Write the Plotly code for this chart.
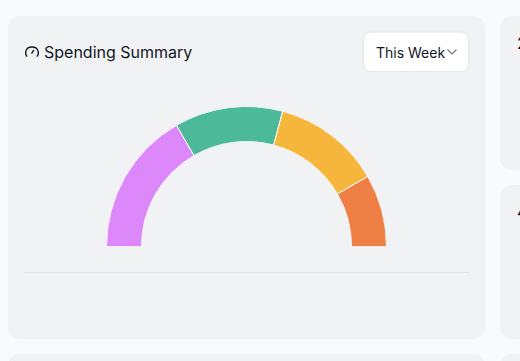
import plotly.graph_objects as go

W, H = 520, 361
categories = ["A", "B", "C", "D"]
values = [40, 30, 30, 20]
colors = ["#dd88fa", "#4cb998", "#f5b63b", "#ef8045"]

PAGE = "#f9fafb"
CARD = "#f1f2f4"


def X(p):
    return p / W


def Y(p):
    return 1 - p / H


def rrect(x0, y0, x1, y1, r):
    k = r * 0.45
    pts = [
        f"M{X(x0 + r)},{Y(y0)}", f"L{X(x1 - r)},{Y(y0)}",
        f"C{X(x1 - k)},{Y(y0)} {X(x1)},{Y(y0 + k)} {X(x1)},{Y(y0 + r)}",
        f"L{X(x1)},{Y(y1 - r)}",
        f"C{X(x1)},{Y(y1 - k)} {X(x1 - k)},{Y(y1)} {X(x1 - r)},{Y(y1)}",
        f"L{X(x0 + r)},{Y(y1)}",
        f"C{X(x0 + k)},{Y(y1)} {X(x0)},{Y(y1 - k)} {X(x0)},{Y(y1 - r)}",
        f"L{X(x0)},{Y(y0 + r)}",
        f"C{X(x0)},{Y(y0 + k)} {X(x0 + k)},{Y(y0)} {X(x0 + r)},{Y(y0)}", "Z",
    ]
    return " ".join(pts)


def card(x0, y0, x1, y1, r=12, fill=CARD, line=None):
    return dict(type="path", xref="paper", yref="paper", path=rrect(x0, y0, x1, y1, r),
                fillcolor=fill, line=dict(color=line or fill, width=1 if line else 0), layer="below")


def stroke(path_pts, color, width):
    path = "M" + " L".join(f"{X(a)},{Y(b)}" for a, b in path_pts)
    return dict(type="path", xref="paper", yref="paper", path=path,
                line=dict(color=color, width=width), layer="above")


total = sum(values)
span = [v / total * 180 for v in values]
starts = [sum(span[:i]) for i in range(len(span))]
thetas = [s + w / 2 for s, w in zip(starts, span)]

fig = go.Figure(go.Barpolar(
    r=[1] * len(values), theta=thetas, width=span, base=0,
    customdata=categories, hoverinfo="skip",
    marker=dict(color=colors, line=dict(color="#ffffff", width=1)),
))

shapes = [
    card(8, 16, 485.5, 339),
    card(500, 16, 560, 170),
    card(500, 185, 560, 339),
    card(8, 354, 485.5, 420),
    card(500, 354, 560, 420),
    card(363.5, 32, 468.5, 71.5, r=8, fill="#ffffff", line="#e3e6ee"),
    dict(type="line", xref="paper", yref="paper", x0=X(24), x1=X(469), y0=Y(272.5), y1=Y(272.5),
         line=dict(color="#dfe1ea", width=1), layer="below"),
    stroke([(447.5, 49.5), (452, 54), (456.5, 49.5)], "#6b7280", 1.2),
    # gauge icon
    dict(type="path", xref="paper", yref="paper",
         path=f"M{X(27.2)},{Y(56.6)} C{X(24.5)},{Y(54)} {X(25)},{Y(47)} {X(32)},{Y(47)} "
              f"C{X(39)},{Y(47)} {X(39.5)},{Y(54)} {X(36.8)},{Y(56.6)}",
         line=dict(color="#111827", width=1.3), layer="above"),
    stroke([(31.5, 53.5), (34, 50)], "#111827", 1.3),
]

annotations = [
    dict(text="Spending Summary", x=X(44), y=Y(52), xanchor="left", yanchor="middle",
         font=dict(size=16, color="#111827", family="Inter")),
    dict(text="This Week", x=X(375.6), y=Y(52.5), xanchor="left", yanchor="middle",
         font=dict(size=14, color="#111827", family="Inter")),
    dict(text="2", x=X(517), y=Y(43), xanchor="left", yanchor="middle",
         font=dict(size=16, color="#111827", family="Inter")),
    dict(text="4", x=X(517), y=Y(212), xanchor="left", yanchor="middle",
         font=dict(size=16, color="#111827", family="Inter")),
]
for a in annotations:
    a.update(xref="paper", yref="paper", showarrow=False, borderpad=0, borderwidth=0)

fig.update_layout(
    width=W, height=H, margin=dict(l=0, r=0, t=0, b=0),
    paper_bgcolor=PAGE, plot_bgcolor=PAGE, showlegend=False,
    shapes=shapes, annotations=annotations,
    polar=dict(
        domain=dict(x=[X(106.5), X(386.5)], y=[Y(246.5), Y(106.5)]),
        sector=[0, 180], hole=0.75, bgcolor="rgba(0,0,0,0)",
        radialaxis=dict(visible=False, range=[0, 1]),
        angularaxis=dict(visible=False, direction="clockwise", rotation=180, thetaunit="degrees"),
        bargap=0,
    ),
)

fig.write_html(
    "out.html",
    config={"displayModeBar": False},
    post_script="document.body.style.margin='0';document.body.style.overflow='hidden';"
                f"document.body.style.background='{PAGE}';",
)
